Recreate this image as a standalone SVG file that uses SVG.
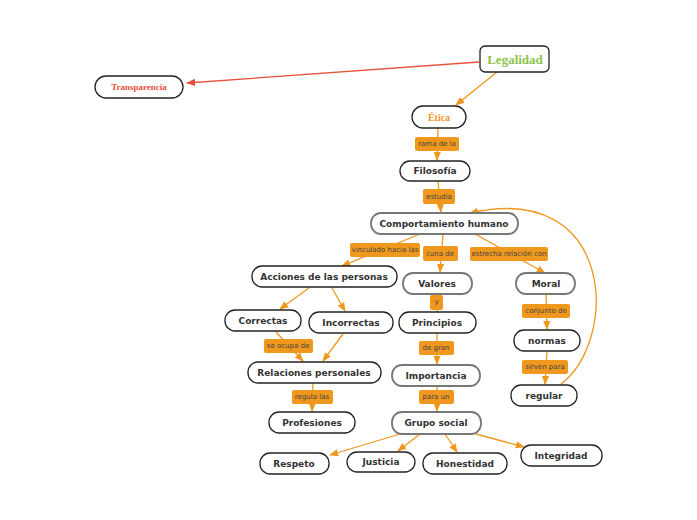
<svg xmlns="http://www.w3.org/2000/svg" width="697" height="520" viewBox="0 0 697 520">
<defs>
<marker id="ao" viewBox="0 0 10 10" refX="9" refY="5" markerWidth="7" markerHeight="7" orient="auto"><path d="M0,1 L10,5 L0,9 z" fill="#f0981e"/></marker>
<marker id="ar" viewBox="0 0 10 10" refX="9" refY="5" markerWidth="7" markerHeight="7" orient="auto"><path d="M0,1 L10,5 L0,9 z" fill="#e8503c"/></marker>
</defs>
<style>
.n rect{fill:#fff;stroke:#222;stroke-width:1.3}
.g rect{stroke:#777;stroke-width:1.8}
.n text{font-family:"DejaVu Sans",sans-serif;font-weight:bold;font-size:9px;fill:#333;text-anchor:middle;dominant-baseline:central}
.l rect{fill:#f0981e}
.l text{font-family:"DejaVu Sans",sans-serif;font-size:7px;fill:#444;text-anchor:middle;dominant-baseline:central}
.c path{fill:none;stroke:#f0981e;stroke-width:1.3}
</style>
<g class="c">
<path d="M479 62 L187 83" style="stroke:#e8503c" marker-end="url(#ar)"/>
<path d="M497 72 L456 105" marker-end="url(#ao)"/>
<path d="M438 128 L437 160" marker-end="url(#ao)"/>
<path d="M438 181 L441 212" marker-end="url(#ao)"/>
<path d="M420 234 L342 266" marker-end="url(#ao)"/>
<path d="M443 234 L440 272" marker-end="url(#ao)"/>
<path d="M475 234 L545 273" marker-end="url(#ao)"/>
<path d="M309 288 L280 309" marker-end="url(#ao)"/>
<path d="M332 288 L345 311" marker-end="url(#ao)"/>
<path d="M437 294 L437 311" marker-end="url(#ao)"/>
<path d="M546 294 L547 329" marker-end="url(#ao)"/>
<path d="M276 332 L303 361" marker-end="url(#ao)"/>
<path d="M343 334 L323 361" marker-end="url(#ao)"/>
<path d="M437 334 L437 364" marker-end="url(#ao)"/>
<path d="M547 352 L545 384" marker-end="url(#ao)"/>
<path d="M313 384 L312 411" marker-end="url(#ao)"/>
<path d="M437 387 L437 411" marker-end="url(#ao)"/>
<path d="M560 385 C620 340 615 180 470 213" marker-end="url(#ao)"/>
<path d="M400 434 L330 455" marker-end="url(#ao)"/>
<path d="M420 434 L398 451" marker-end="url(#ao)"/>
<path d="M445 434 L457 452" marker-end="url(#ao)"/>
<path d="M476 434 L524 447" marker-end="url(#ao)"/>
</g>
<g id="legalidad" class="n"><rect x="480" y="46" width="69" height="26" rx="5"/><text x="515" y="59" style="font-family:'Liberation Serif',serif;font-size:13px;fill:#8bc34a">Legalidad</text></g>
<g id="transparencia" class="n"><rect x="95" y="76" width="88" height="22" rx="11"/><text x="139" y="87" style="font-family:'Liberation Serif',serif;font-size:9px;fill:#e8503c">Transparencia</text></g>
<g id="etica" class="n"><rect x="412" y="106" width="54" height="22" rx="11"/><text x="439" y="117" style="font-family:'Liberation Serif',serif;font-size:10px;fill:#f0981e">Ética</text></g>
<g id="filosofia" class="n"><rect x="400" y="161" width="70" height="20" rx="10"/><text x="435" y="171">Filosofía</text></g>
<g id="comportamiento" class="n g"><rect x="371" y="213" width="147" height="21" rx="10"/><text x="444" y="224">Comportamiento humano</text></g>
<g id="acciones" class="n"><rect x="252" y="266" width="145" height="21" rx="10"/><text x="324" y="277">Acciones de las personas</text></g>
<g id="valores" class="n g"><rect x="403" y="273" width="69" height="21" rx="10"/><text x="437" y="284">Valores</text></g>
<g id="moral" class="n g"><rect x="516" y="273" width="59" height="21" rx="10"/><text x="546" y="284">Moral</text></g>
<g id="correctas" class="n"><rect x="225" y="310" width="76" height="21" rx="10"/><text x="263" y="321">Correctas</text></g>
<g id="incorrectas" class="n"><rect x="309" y="312" width="84" height="21" rx="10"/><text x="351" y="323">Incorrectas</text></g>
<g id="principios" class="n"><rect x="399" y="312" width="77" height="21" rx="10"/><text x="437" y="323">Principios</text></g>
<g id="normas" class="n"><rect x="514" y="330" width="66" height="21" rx="10"/><text x="547" y="341">normas</text></g>
<g id="relaciones" class="n"><rect x="248" y="362" width="133" height="21" rx="10"/><text x="314" y="373">Relaciones personales</text></g>
<g id="importancia" class="n g"><rect x="392" y="365" width="88" height="21" rx="10"/><text x="436" y="376">Importancia</text></g>
<g id="regular" class="n"><rect x="511" y="385" width="66" height="21" rx="10"/><text x="544" y="396">regular</text></g>
<g id="profesiones" class="n"><rect x="269" y="412" width="86" height="21" rx="10"/><text x="312" y="423">Profesiones</text></g>
<g id="grupo" class="n g"><rect x="392" y="412" width="89" height="22" rx="10"/><text x="436" y="423">Grupo social</text></g>
<g id="respeto" class="n"><rect x="260" y="453" width="69" height="21" rx="10"/><text x="294" y="464">Respeto</text></g>
<g id="justicia" class="n"><rect x="347" y="452" width="68" height="20" rx="10"/><text x="381" y="462">Justicia</text></g>
<g id="honestidad" class="n"><rect x="423" y="453" width="84" height="21" rx="10"/><text x="465" y="464">Honestidad</text></g>
<g id="integridad" class="n"><rect x="521" y="445" width="81" height="21" rx="10"/><text x="561" y="456">Integridad</text></g>
<g class="l">
<rect x="415" y="137" width="44" height="14" rx="2"/><text x="437" y="144">rama de la</text>
<rect x="423" y="189" width="32" height="15" rx="2"/><text x="439" y="196.5">estudia</text>
<rect x="350" y="243" width="70" height="14" rx="2"/><text x="385" y="250">vinculado hacia las</text>
<rect x="423" y="246" width="35" height="15" rx="2"/><text x="440" y="253.5">cuna de</text>
<rect x="470" y="247" width="78" height="14" rx="2"/><text x="509" y="254">estrecha relación con</text>
<rect x="430" y="295" width="13" height="15" rx="2"/><text x="436.5" y="302">y</text>
<rect x="522" y="304" width="48" height="14" rx="2"/><text x="546" y="311">conjunto de</text>
<rect x="264" y="339" width="49" height="14" rx="2"/><text x="288" y="346">se ocupa de</text>
<rect x="419" y="341" width="35" height="14" rx="2"/><text x="436" y="348">de gran</text>
<rect x="522" y="360" width="46" height="14" rx="2"/><text x="545" y="367">sirven para</text>
<rect x="292" y="390" width="41" height="14" rx="2"/><text x="312" y="397">regula las</text>
<rect x="419" y="390" width="35" height="14" rx="2"/><text x="436" y="397">para un</text>
</g>
</svg>
